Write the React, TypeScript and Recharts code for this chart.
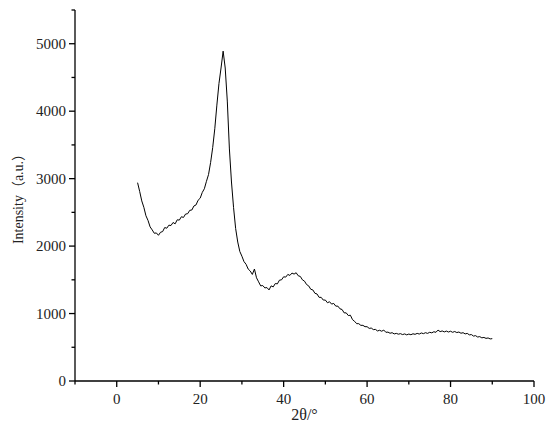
import { LineChart, Line, XAxis, YAxis, Label } from "recharts"

// scan angle (2θ, degrees)
const twoTheta = [
  5, 5.5, 6, 6.5, 7, 7.5, 8, 8.5, 9, 9.5, 10, 10.5, 11, 11.5, 12, 12.5, 13, 13.5, 14, 14.5,
  15, 15.5, 16, 16.5, 17, 17.5, 18, 18.5, 19, 19.5, 20, 20.5, 21, 21.5, 22, 22.5, 23, 23.5, 24, 24.5,
  25, 25.5, 26, 26.5, 27, 27.5, 28, 28.5, 29, 29.5, 30, 30.5, 31, 31.5, 32, 32.5, 33, 33.5, 34, 34.5,
  35, 35.5, 36, 36.5, 37, 37.5, 38, 38.5, 39, 39.5, 40, 40.5, 41, 41.5, 42, 42.5, 43, 43.5, 44, 44.5,
  45, 45.5, 46, 46.5, 47, 47.5, 48, 48.5, 49, 49.5, 50, 50.5, 51, 51.5, 52, 52.5, 53, 53.5, 54, 54.5,
  55, 55.5, 56, 56.5, 57, 57.5, 58, 58.5, 59, 59.5, 60, 60.5, 61, 61.5, 62, 62.5, 63, 63.5, 64, 64.5,
  65, 65.5, 66, 66.5, 67, 67.5, 68, 68.5, 69, 69.5, 70, 70.5, 71, 71.5, 72, 72.5, 73, 73.5, 74, 74.5,
  75, 75.5, 76, 76.5, 77, 77.5, 78, 78.5, 79, 79.5, 80, 80.5, 81, 81.5, 82, 82.5, 83, 83.5, 84, 84.5,
  85, 85.5, 86, 86.5, 87, 87.5, 88, 88.5, 89, 89.5, 90,
]

// intensity (a.u.)
const intensity = [
  2940, 2810, 2670, 2575, 2450, 2380, 2285, 2240, 2190, 2195, 2160, 2205, 2215, 2275, 2265, 2310, 2305, 2350, 2330, 2390,
  2385, 2435, 2425, 2475, 2480, 2530, 2535, 2595, 2610, 2680, 2710, 2795, 2850, 2960, 3060, 3240, 3460, 3740, 4090, 4410,
  4640, 4890, 4640, 4150, 3440, 2950, 2570, 2260, 2060, 1920, 1850, 1770, 1730, 1660, 1630, 1580, 1660, 1530, 1470, 1410,
  1415, 1380, 1385, 1350, 1410, 1395, 1445, 1440, 1495, 1500, 1545, 1540, 1580, 1565, 1600, 1585, 1605, 1560, 1550, 1500,
  1480, 1430, 1410, 1360, 1350, 1300, 1290, 1240, 1240, 1200, 1200, 1160, 1175, 1140, 1150, 1110, 1110, 1070, 1060, 1010,
  1010, 970, 975, 910, 885, 850, 850, 825, 825, 805, 805, 780, 785, 762, 765, 742, 752, 738, 755, 722,
  725, 708, 716, 698, 706, 694, 702, 688, 698, 684, 696, 686, 700, 692, 706, 696, 712, 702, 716, 706,
  722, 714, 730, 722, 755, 732, 742, 728, 740, 726, 738, 722, 734, 718, 726, 708, 716, 698, 706, 684,
  688, 666, 672, 652, 658, 640, 646, 632, 638, 624, 628,
]

const xTicks = [-10, 0, 10, 20, 30, 40, 50, 60, 70, 80, 90, 100]
const xLabelled = [0, 20, 40, 60, 80, 100]
const yTicks = [0, 500, 1000, 1500, 2000, 2500, 3000, 3500, 4000, 4500, 5000, 5500]
const yLabelled = [0, 1000, 2000, 3000, 4000, 5000]

const FONT = '"Liberation Serif", "Times New Roman", "DejaVu Serif", serif'
const CJK = '"Noto Sans CJK SC", sans-serif'
const textStyle = { fontFamily: FONT, fontSize: 15, fill: "#222" }

const XTick = (props: any) => {
  const { x, y, payload } = props
  const major = xLabelled.includes(payload.value)
  return (
    <g>
      <line x1={x} x2={x} y1={y} y2={y + (major ? 6 : 3.5)} stroke="#000" strokeWidth={1.3} />
      {major && (
        <text x={x} y={y + 23} textAnchor="middle" style={textStyle}>
          {payload.value}
        </text>
      )}
    </g>
  )
}

const YTick = (props: any) => {
  const { x, y, payload } = props
  const major = yLabelled.includes(payload.value)
  return (
    <g>
      <line x1={x} x2={x - (major ? 6 : 3.5)} y1={y} y2={y} stroke="#000" strokeWidth={1.3} />
      {major && (
        <text x={x - 9} y={y + 5} textAnchor="end" style={textStyle}>
          {payload.value}
        </text>
      )}
    </g>
  )
}

// rotated y title with full-width CJK brackets
const YTitle = (props: any) => {
  const vb = props.viewBox || {}
  const cx = 23
  const cy = (vb.y ?? 10) + (vb.height ?? 371) / 2
  return (
    <text
      x={cx}
      y={cy}
      transform={`rotate(-90, ${cx}, ${cy})`}
      textAnchor="middle"
      style={{ ...textStyle, fontSize: 14 }}
    >
      Intensity
      <tspan style={{ fontFamily: CJK }}>（</tspan>
      a.u.
      <tspan style={{ fontFamily: CJK }}>）</tspan>
    </text>
  )
}

export default function App() {
  const data = twoTheta.map((t, i) => ({ theta: t, value: intensity[i] }))

  return (
    <div style={{ position: "absolute", left: 0, top: 0, background: "#fff" }}>
      <LineChart width={550} height={432} data={data} margin={{ top: 10, right: 16, left: 0, bottom: 0 }}>
        <XAxis
          dataKey="theta"
          type="number"
          domain={[-10, 100]}
          ticks={xTicks}
          interval={0}
          tickSize={0}
          tickMargin={0}
          tick={<XTick />}
          height={51}
          axisLine={{ stroke: "#000", strokeWidth: 1.3 }}
          allowDataOverflow
        >
          <Label value="2θ/°" position="insideBottom" offset={12} style={{ ...textStyle, fontSize: 16 }} />
        </XAxis>
        <YAxis
          type="number"
          domain={[0, 5500]}
          ticks={yTicks}
          interval={0}
          tickSize={0}
          tickMargin={0}
          tick={<YTick />}
          width={75}
          axisLine={{ stroke: "#000", strokeWidth: 1.3 }}
          allowDataOverflow
        >
          <Label content={<YTitle />} />
        </YAxis>
        <Line
          type="linear"
          dataKey="value"
          stroke="#000"
          strokeWidth={1}
          dot={false}
          isAnimationActive={false}
        />
      </LineChart>
    </div>
  )
}
